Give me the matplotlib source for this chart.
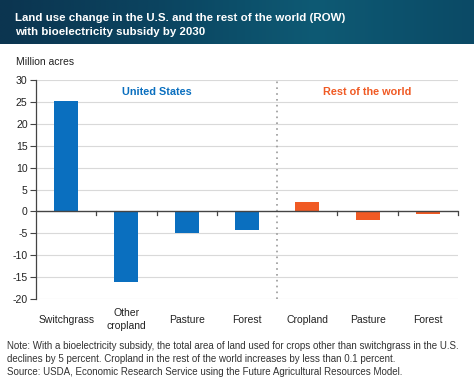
import matplotlib.pyplot as plt
import numpy as np
from matplotlib.colors import LinearSegmentedColormap

categories = ["Switchgrass", "Other\ncropland", "Pasture", "Forest", "Cropland", "Pasture", "Forest"]
values = [25.2, -16.1, -5.0, -4.2, 2.2, -1.9, -0.5]
regions = ["US", "US", "US", "US", "ROW", "ROW", "ROW"]
yticks = [-20, -15, -10, -5, 0, 5, 10, 15, 20, 25, 30]

blue = "#0a6fbf"
orange = "#f05a24"
colors = [blue if r == "US" else orange for r in regions]

plt.rcParams['font.family'] = ['Liberation Sans', 'DejaVu Sans']

fig = plt.figure(figsize=(4.74, 3.79), dpi=100)

# header band with gradient
hdr = fig.add_axes([0, 1 - 44 / 379, 1, 44 / 379])
grad = np.tile(np.linspace(0, 1, 300), (20, 1))
cmap = LinearSegmentedColormap.from_list("hdr", ["#0b3550", "#0b4460", "#0e5a74", "#0b4a66"])
hdr.imshow(grad, aspect="auto", cmap=cmap, extent=[0, 1, 0, 1])
hdr.set_axis_off()
fig.text(15 / 474, 1 - 18 / 379, "Land use change in the U.S. and the rest of the world (ROW)",
         color="white", fontsize=8.25, fontweight="bold", va="center")
fig.text(15 / 474, 1 - 32 / 379, "with bioelectricity subsidy by 2030",
         color="white", fontsize=8.25, fontweight="bold", va="center")

fig.text(16 / 474, 1 - 62 / 379, "Million acres", fontsize=7.5, va="center", color="#222222")

ax = fig.add_axes([36 / 474, 1 - 299 / 379, 422 / 474, 219 / 379])
x = np.arange(len(categories))
ax.bar(x, values, width=0.4, color=colors, zorder=3)
ax.set_xlim(-0.5, 6.5)
ax.set_ylim(-20, 30)
ax.set_yticks(yticks)
ax.set_yticklabels([str(t) for t in yticks], fontsize=7.6, color="#222222")
for t in yticks:
    if t != 0:
        ax.axhline(t, color="#d9d9d9", lw=0.8, zorder=1)
ax.axhline(0, color="#444444", lw=1.0, zorder=4)
for b in [0.5, 1.5, 2.5, 4.5, 5.5, 6.5]:
    ax.plot([b, b], [0, -0.9], color="#444444", lw=0.9, zorder=4, clip_on=False)
ax.axvline(3.5, color="#999999", lw=1.2, ls=(0, (1, 2.5)), zorder=2)

for s in ["top", "right", "bottom"]:
    ax.spines[s].set_visible(False)
ax.spines["left"].set_color("#444444")
ax.spines["left"].set_linewidth(0.9)
ax.tick_params(axis="y", direction="out", length=4, width=0.8, color="#444444", pad=2)
ax.set_xticks([])

for xi, lab in zip(x, categories):
    ax.text(xi, -24.7, lab, ha="center", va="center", fontsize=7.5,
            color="#222222", linespacing=1.35)

ax.text(1.5, 27.3, "United States", ha="center", va="center", fontsize=7.8,
        fontweight="bold", color=blue)
ax.text(5.0, 27.3, "Rest of the world", ha="center", va="center", fontsize=7.8,
        fontweight="bold", color=orange)

note = ("Note: With a bioelectricity subsidy, the total area of land used for crops other than switchgrass in the U.S.\n"
        "declines by 5 percent. Cropland in the rest of the world increases by less than 0.1 percent.\n"
        "Source: USDA, Economic Research Service using the Future Agricultural Resources Model.")
fig.text(7 / 474, 1 - 341 / 379, note, fontsize=7.0, va="top", color="#333333", linespacing=1.4)

fig.savefig("out.png", dpi=100)
